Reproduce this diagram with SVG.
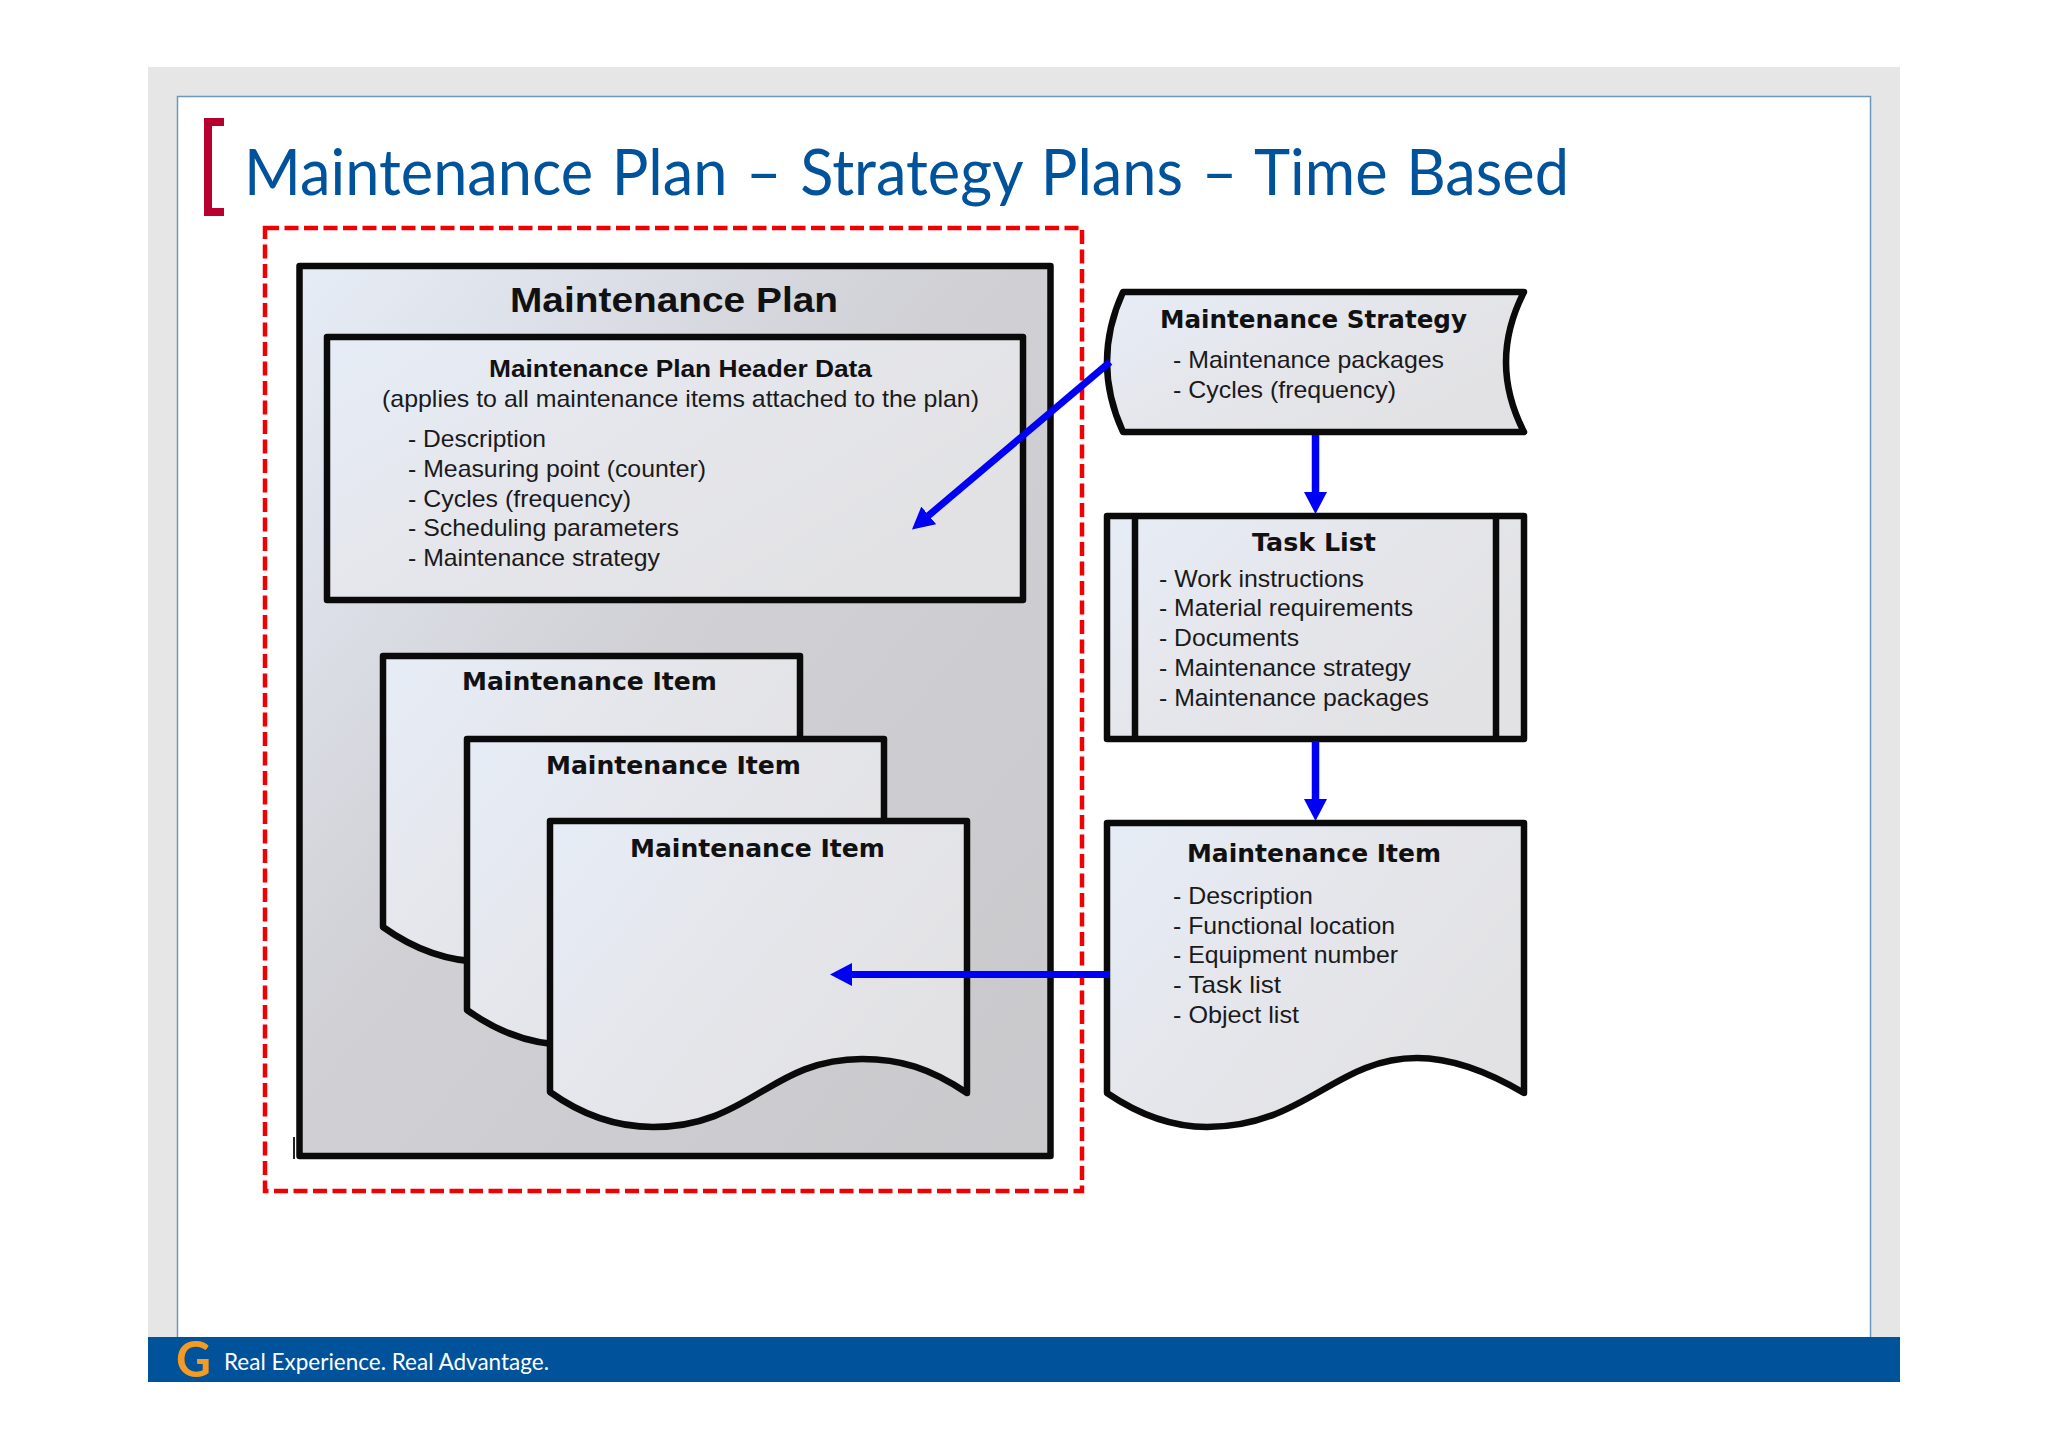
<svg xmlns="http://www.w3.org/2000/svg" width="2048" height="1447" viewBox="0 0 2048 1447">
<style>
.t{font-family:"Liberation Sans",Arial,sans-serif;fill:#1a1a1c;font-size:24px}
.b{font-family:"DejaVu Sans",Verdana,sans-serif;font-weight:700;fill:#111;font-size:25px}
.h{font-family:"Liberation Sans",Arial,sans-serif;font-weight:700;fill:#111}
.o{stroke:#0a0a0a;stroke-width:6.500;stroke-linejoin:round}
.c{stroke:#0000f5;fill:none}
</style>
<defs>
<linearGradient id="gPlan" x1="0" y1="0" x2="1" y2="1"><stop offset="0" stop-color="#e6ecf6"/><stop offset="0.45" stop-color="#d0d0d5"/><stop offset="1" stop-color="#c9c9cc"/></linearGradient>
<linearGradient id="gNode" x1="0" y1="0" x2="1" y2="0.6"><stop offset="0" stop-color="#e6ecf6"/><stop offset="0.5" stop-color="#e5e6eb"/><stop offset="1" stop-color="#e2e2e4"/></linearGradient>
<marker id="head" markerUnits="userSpaceOnUse" markerWidth="23" markerHeight="24" refX="1" refY="12" orient="auto"><path d="M0 0.5L22 12L0 23.5Z" fill="#0000f5"/></marker>
<path id="doc" d="M550 821H967V1093C930 1068 900 1059 862 1059C770 1059 750 1127 653 1127C610 1127 575 1110 550 1092Z"/>
</defs>
<rect width="2048" height="1447" fill="#fff"/>
<g id="slide">
<rect x="148" y="67" width="1752" height="1270" fill="#e6e6e6"/>
<rect x="177.500" y="96.500" width="1693" height="1245" fill="#fff" stroke="#6b98bf" stroke-width="1.500"/>
<rect x="148" y="1337" width="1752" height="45" fill="#00529b"/>
<path d="M224 122H208V212H224" fill="none" stroke="#b8002f" stroke-width="8"/>
<text x="244" y="195" font-family="Lato,'Liberation Sans',sans-serif" font-size="63" word-spacing="3" fill="#00529b" textLength="1325" lengthAdjust="spacingAndGlyphs">Maintenance Plan – Strategy Plans – Time Based</text>
<text x="176" y="1377" font-family="Lato,'Liberation Sans',sans-serif" font-weight="700" font-size="50" fill="#f59a23" textLength="35" lengthAdjust="spacingAndGlyphs">G</text>
<text x="224" y="1370" font-family="Lato,'Liberation Sans',sans-serif" font-size="24" fill="#fff" textLength="325" lengthAdjust="spacingAndGlyphs">Real Experience. Real Advantage.</text>
</g>
<rect id="scope" x="265" y="228" width="817" height="963" fill="none" stroke="#f00000" stroke-width="4.500" stroke-dasharray="14 5.500"/>
<g id="maintenance-plan">
<rect class="o" x="299.500" y="266" width="751" height="890" fill="url(#gPlan)"/>
<path d="M294 1137V1159" stroke="#222" stroke-width="2" fill="none"/>
<text class="h" x="510" y="312" font-size="35" textLength="328" lengthAdjust="spacingAndGlyphs">Maintenance Plan</text>
</g>
<g id="header-data">
<rect class="o" x="327" y="337" width="696" height="263" fill="url(#gNode)"/>
<text class="h" x="489" y="377" font-size="24" textLength="383" lengthAdjust="spacingAndGlyphs">Maintenance Plan Header Data</text>
<text class="t" x="382" y="407" textLength="597" lengthAdjust="spacingAndGlyphs">(applies to all maintenance items attached to the plan)</text>
<text class="t" x="408" y="447" textLength="138" lengthAdjust="spacingAndGlyphs">- Description</text>
<text class="t" x="408" y="477" textLength="298" lengthAdjust="spacingAndGlyphs">- Measuring point (counter)</text>
<text class="t" x="408" y="507" textLength="223" lengthAdjust="spacingAndGlyphs">- Cycles (frequency)</text>
<text class="t" x="408" y="536" textLength="271" lengthAdjust="spacingAndGlyphs">- Scheduling parameters</text>
<text class="t" x="408" y="566" textLength="252" lengthAdjust="spacingAndGlyphs">- Maintenance strategy</text>
</g>
<g id="plan-item-1">
<use href="#doc" class="o" transform="translate(-167 -165)" fill="url(#gNode)"/>
<text class="b" x="462" y="690" textLength="255" lengthAdjust="spacingAndGlyphs">Maintenance Item</text>
</g>
<g id="plan-item-2">
<use href="#doc" class="o" transform="translate(-83 -82)" fill="url(#gNode)"/>
<text class="b" x="546" y="774" textLength="255" lengthAdjust="spacingAndGlyphs">Maintenance Item</text>
</g>
<g id="plan-item-3">
<use href="#doc" class="o" fill="url(#gNode)"/>
<text class="b" x="630" y="857" textLength="255" lengthAdjust="spacingAndGlyphs">Maintenance Item</text>
</g>
<g id="maintenance-strategy">
<path class="o" d="M1123 292H1524Q1488 362 1524 432H1123Q1091 362 1123 292Z" fill="url(#gNode)"/>
<text class="b" x="1160" y="328" textLength="307" lengthAdjust="spacingAndGlyphs">Maintenance Strategy</text>
<text class="t" x="1173" y="368" textLength="271" lengthAdjust="spacingAndGlyphs">- Maintenance packages</text>
<text class="t" x="1173" y="398" textLength="223" lengthAdjust="spacingAndGlyphs">- Cycles (frequency)</text>
</g>
<g id="task-list">
<rect class="o" x="1107" y="516" width="417" height="223" fill="url(#gNode)"/>
<path d="M1135 516V739M1496 516V739" stroke="#0a0a0a" stroke-width="6.500" fill="none"/>
<text class="b" x="1252" y="551" textLength="124" lengthAdjust="spacingAndGlyphs">Task List</text>
<text class="t" x="1159" y="587" textLength="205" lengthAdjust="spacingAndGlyphs">- Work instructions</text>
<text class="t" x="1159" y="616" textLength="254" lengthAdjust="spacingAndGlyphs">- Material requirements</text>
<text class="t" x="1159" y="646" textLength="140" lengthAdjust="spacingAndGlyphs">- Documents</text>
<text class="t" x="1159" y="676" textLength="252" lengthAdjust="spacingAndGlyphs">- Maintenance strategy</text>
<text class="t" x="1159" y="706" textLength="270" lengthAdjust="spacingAndGlyphs">- Maintenance packages</text>
</g>
<g id="maintenance-item">
<path class="o" d="M1107 823H1524V1093C1485 1070 1450 1058 1417 1058C1335 1058 1305 1127 1207 1127C1167 1127 1132 1110 1107 1093Z" fill="url(#gNode)"/>
<text class="b" x="1187" y="862" textLength="254" lengthAdjust="spacingAndGlyphs">Maintenance Item</text>
<text class="t" x="1173" y="904" textLength="140" lengthAdjust="spacingAndGlyphs">- Description</text>
<text class="t" x="1173" y="934" textLength="222" lengthAdjust="spacingAndGlyphs">- Functional location</text>
<text class="t" x="1173" y="963" textLength="225" lengthAdjust="spacingAndGlyphs">- Equipment number</text>
<text class="t" x="1173" y="993" textLength="108" lengthAdjust="spacingAndGlyphs">- Task list</text>
<text class="t" x="1173" y="1023" textLength="126" lengthAdjust="spacingAndGlyphs">- Object list</text>
</g>
<g id="connectors">
<path class="c" stroke-width="7.500" d="M1315.500 435V493" marker-end="url(#head)"/>
<path class="c" stroke-width="7.500" d="M1315.500 741V800" marker-end="url(#head)"/>
<path class="c" stroke-width="7" d="M1110 362L928 516" marker-end="url(#head)"/>
<path class="c" stroke-width="7" d="M1110 974.500H851" marker-end="url(#head)"/>
</g>
</svg>
